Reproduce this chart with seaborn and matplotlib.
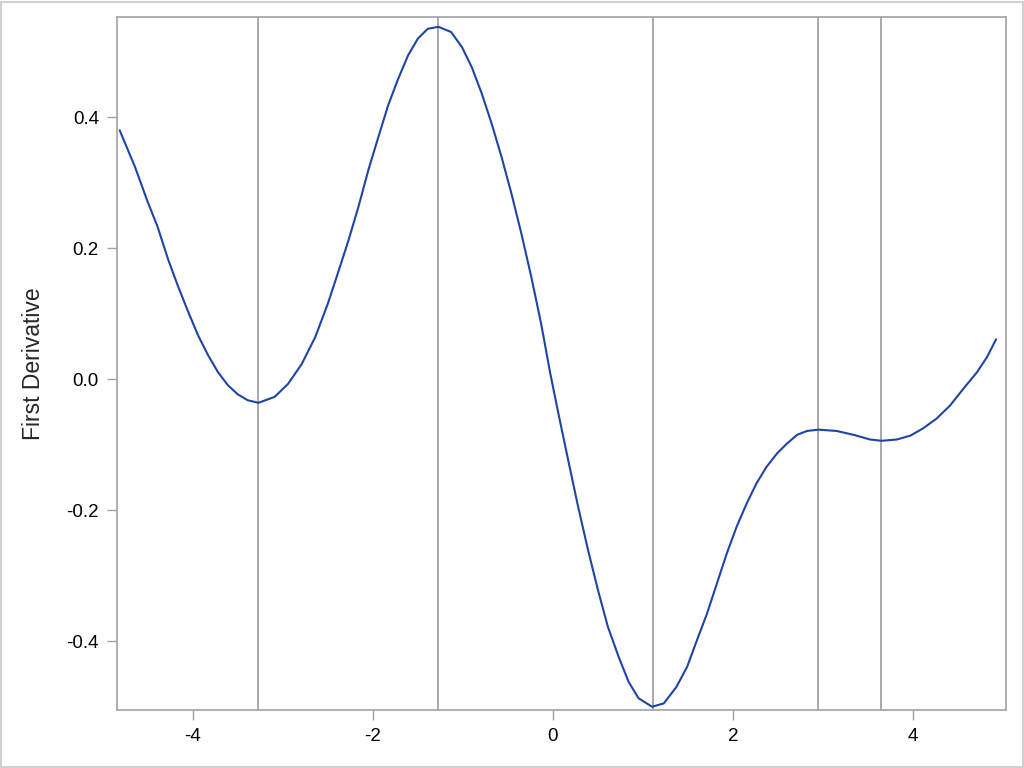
import matplotlib

matplotlib.use("Agg")

import matplotlib.pyplot as plt
import pandas as pd
import seaborn as sns
from matplotlib.patches import Rectangle

# values
x_values = [
    -4.81, -4.64, -4.50, -4.39, -4.27, -4.16, -4.05, -3.94, -3.83, -3.72,
    -3.61, -3.50, -3.39, -3.27, -3.09, -2.94, -2.79, -2.64, -2.50, -2.39,
    -2.27, -2.16, -2.05, -1.94, -1.83, -1.72, -1.61, -1.50, -1.39, -1.27,
    -1.13, -1.01, -0.90, -0.79, -0.68, -0.57, -0.46, -0.35, -0.24, -0.13,
    -0.03, 0.06, 0.17, 0.28, 0.39, 0.50, 0.61, 0.73, 0.84, 0.95,
    1.10, 1.23, 1.37, 1.49, 1.60, 1.71, 1.82, 1.93, 2.04, 2.15,
    2.26, 2.37, 2.49, 2.60, 2.71, 2.82, 2.95, 3.15, 3.34, 3.52,
    3.65, 3.82, 3.97, 4.11, 4.26, 4.41, 4.56, 4.71, 4.82, 4.92,
]
first_derivative = [
    0.380, 0.324, 0.271, 0.233, 0.182, 0.141, 0.103, 0.067, 0.037, 0.011,
    -0.009, -0.023, -0.032, -0.036, -0.027, -0.007, 0.023, 0.064, 0.115, 0.161,
    0.212, 0.263, 0.319, 0.369, 0.418, 0.458, 0.494, 0.520, 0.535, 0.538,
    0.530, 0.507, 0.476, 0.436, 0.390, 0.339, 0.283, 0.222, 0.156, 0.084,
    0.009, -0.052, -0.124, -0.195, -0.261, -0.322, -0.378, -0.424, -0.462, -0.487,
    -0.500, -0.495, -0.470, -0.439, -0.398, -0.358, -0.312, -0.266, -0.225, -0.190,
    -0.159, -0.134, -0.113, -0.098, -0.085, -0.079, -0.077, -0.079, -0.085, -0.092,
    -0.094, -0.092, -0.086, -0.075, -0.060, -0.040, -0.014, 0.011, 0.034, 0.061,
]
critical_points = [-3.27, -1.28, 1.11, 2.94, 3.64]
x_ticks = [-4, -2, 0, 2, 4]
y_ticks = [-0.4, -0.2, 0.0, 0.2, 0.4]

sns.set_style("white")
plt.rcParams["font.family"] = ["Liberation Sans", "DejaVu Sans"]

FRAME = "#A0A3A6"
LINE = "#1F45A3"

df = pd.DataFrame({"x": x_values, "deriv": first_derivative})

fig = plt.figure(figsize=(10.24, 7.68), dpi=100)
ax = fig.add_axes([117 / 1024, 58 / 768, 889 / 1024, 693 / 768])

for xc in critical_points:
    ax.axvline(xc, color=FRAME, linewidth=1.3, zorder=1)

sns.lineplot(data=df, x="x", y="deriv", ax=ax, color=LINE, linewidth=1.5,
             sort=False, zorder=3)

ax.set_xlim(-4.84, 5.03)
ax.set_ylim(-0.505, 0.553)
ax.set_xticks(x_ticks)
ax.set_xticklabels([f"{t:g}" for t in x_ticks])
ax.set_yticks(y_ticks)
ax.set_yticklabels([f"{t:.1f}" for t in y_ticks])
ax.set_xlabel("")
ax.set_ylabel("First Derivative", fontsize=16.5, labelpad=15)
ax.tick_params(axis="both", direction="out", length=7, width=1, color=FRAME,
               labelsize=13.5, labelcolor="black", pad=6, bottom=True, left=True)

for spine in ax.spines.values():
    spine.set_color(FRAME)
    spine.set_linewidth(1.2)

# light border around the whole picture
fig.patches.append(Rectangle((0.001, 0.001), 0.998, 0.997, transform=fig.transFigure,
                             fill=False, edgecolor="#D0D0D0", linewidth=1.5))

fig.savefig("out.png", dpi=100)
plt.close(fig)
